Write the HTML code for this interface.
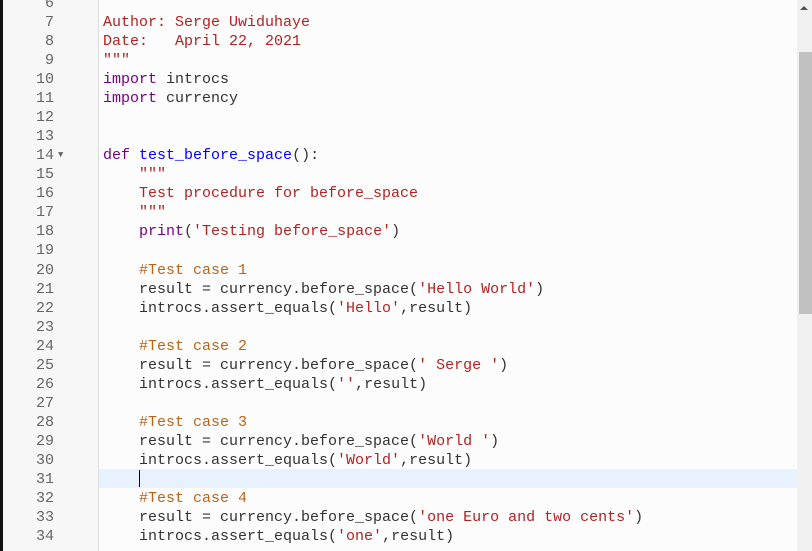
<!DOCTYPE html>
<html style="overflow:hidden;height:551px"><head><style>
body{margin:0;width:812px;height:551px;overflow:hidden;background:#fcfcfc;position:relative;font-family:"Liberation Mono",monospace;font-size:15px}
#bar{position:absolute;left:0;top:0;width:3px;height:551px;background:#111}
#gut{position:absolute;left:3px;top:0;width:95px;height:551px;background:#f7f7f7;border-right:1px solid #ddd}
#sb{position:absolute;left:797px;top:0;width:15px;height:551px;background:#f0f0f0}
#th{position:absolute;left:799px;top:52px;width:13px;height:262px;background:#c1c1c1}
#hl{position:absolute;left:99px;top:469px;width:698px;height:19px;background:#e8f2fe}
.n{position:absolute;width:54px;text-align:right;left:0;color:#666;line-height:19px;height:19px}
.c{position:absolute;left:103px;white-space:pre;line-height:19px;height:19px;color:#333}
.s{color:#b22222}.k{color:#770088}.f{color:#0000ff}.m{color:#b8641b}
#wrap{position:absolute;left:0;top:0;width:812px;height:551px;overflow:hidden}
</style></head><body>
<div id="wrap">
<div id="bar"></div><div id="gut"></div><div id="hl"></div>
<div id="sb"><div style="position:absolute;left:3px;top:6px;width:0;height:0;border-left:4px solid transparent;border-right:4px solid transparent;border-bottom:4px solid #505050"></div></div><div id="th"></div>
<div id="lines"></div>
<div style="position:absolute;left:139px;top:470px;width:1px;height:17px;background:#000"></div>
</div>
<script>
var L=[
[6,''],[7,'<span class="s">Author: Serge Uwiduhaye</span>'],[8,'<span class="s">Date:   April 22, 2021</span>'],[9,'<span class="s">"""</span>'],
[10,'<span class="k">import</span> introcs'],[11,'<span class="k">import</span> currency'],[12,''],[13,''],
[14,'<span class="k">def</span> <span class="f">test_before_space</span>():'],
[15,'    <span class="s">"""</span>'],[16,'    <span class="s">Test procedure for before_space</span>'],[17,'    <span class="s">"""</span>'],
[18,'    <span class="k">print</span>(<span class="s">\'Testing before_space\'</span>)'],[19,''],
[20,'    <span class="m">#Test case 1</span>'],[21,'    result = currency.before_space(<span class="s">\'Hello World\'</span>)'],[22,'    introcs.assert_equals(<span class="s">\'Hello\'</span>,result)'],[23,''],
[24,'    <span class="m">#Test case 2</span>'],[25,'    result = currency.before_space(<span class="s">\' Serge \'</span>)'],[26,'    introcs.assert_equals(<span class="s">\'\'</span>,result)'],[27,''],
[28,'    <span class="m">#Test case 3</span>'],[29,'    result = currency.before_space(<span class="s">\'World \'</span>)'],[30,'    introcs.assert_equals(<span class="s">\'World\'</span>,result)'],[31,''],
[32,'    <span class="m">#Test case 4</span>'],[33,'    result = currency.before_space(<span class="s">\'one Euro and two cents\'</span>)'],[34,'    introcs.assert_equals(<span class="s">\'one\'</span>,result)']];
var h='';
L.forEach(function(a){var t=22+(a[0]-7)*19.04-9;
h+='<div class="n" style="top:'+t+'px">'+a[0]+(a[0]==14?'<span style="position:absolute;left:58px;font-size:9px;color:#666">&#9660;</span>':'')+'</div>';
h+='<div class="c" style="top:'+t+'px">'+a[1]+'</div>';});
document.getElementById('lines').innerHTML=h;
</script>
</body></html>
